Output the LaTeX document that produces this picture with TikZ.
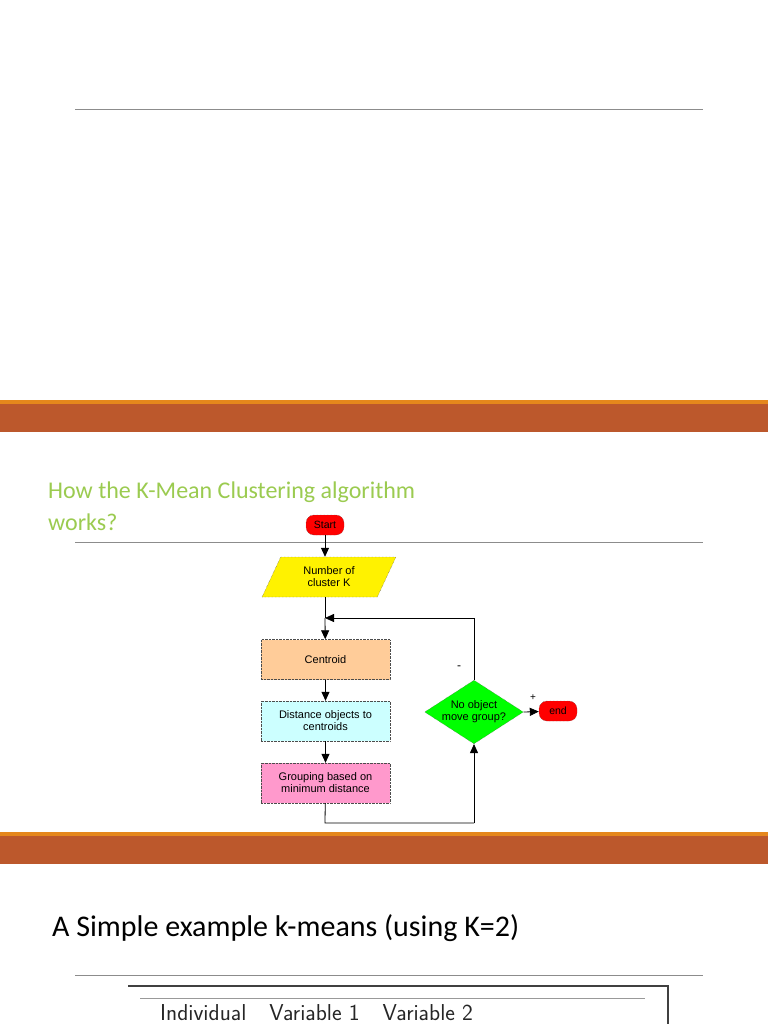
\documentclass[tikz,border=0pt]{standalone}
\usepackage{fontspec}
\setmainfont{Liberation Sans}
\newfontfamily\cali{Carlito}
\usetikzlibrary{shapes.geometric,arrows.meta}
\definecolor{bar}{HTML}{BC582C}
\definecolor{stripe}{HTML}{E5871C}
\definecolor{ttl}{HTML}{9BCB50}
\begin{document}
\begin{tikzpicture}[x=1pt,y=-1pt,
  box/.style={draw=black!70,densely dotted,minimum width=129pt,minimum height=40pt,inner sep=1pt,align=center,font=\fontsize{11}{12}\selectfont},
  term/.style={draw=black!70,densely dotted,fill=red,rounded corners=8pt,minimum width=38pt,minimum height=20pt,inner sep=1pt,font=\fontsize{10.5}{11}\selectfont},
  arr/.style={-{Triangle[length=9pt,width=8pt]},line width=0.8pt},
  ln/.style={line width=0.8pt},
  rule/.style={draw=black!45,line width=0.8pt}]
\useasboundingbox (0,0) rectangle (768,1024);
\fill[white] (0,0) rectangle (768,1024);
\draw[rule] (75,109) -- (703,109);
\fill[stripe] (0,400) rectangle (768,404);
\fill[bar] (0,404) rectangle (768,432);
\node[anchor=base west,text=ttl,font=\cali\fontsize{24}{26}\selectfont,inner sep=0] (t1) at (48,498) {How the K-Mean Clustering algorithm};
\node[anchor=base west,text=ttl,font=\cali\fontsize{24}{26}\selectfont,inner sep=0] (t2) at (48,530) {works?};
\draw[rule] (75,542) -- (703,542);
\node[term] (start) at (325,525) {Start};
\node[trapezium,trapezium left angle=65,trapezium right angle=115,draw=black!70,densely dotted,fill=yellow,minimum width=118pt,minimum height=40pt,inner sep=1pt,align=center,font=\fontsize{11}{12}\selectfont] (num) at (329,577) {Number of\\cluster K};
\node[box,fill={rgb,255:red,255;green,204;blue,153}] (cen) at (325.5,659.5) {Centroid};
\node[box,fill={rgb,255:red,204;green,255;blue,255}] (dist) at (325.5,721) {Distance objects to\\centroids};
\node[box,fill={rgb,255:red,255;green,153;blue,204}] (grp) at (325.5,783) {Grouping based on\\minimum distance};
\node[diamond,draw=black!70,densely dotted,fill=green,aspect=1.55,minimum width=92pt,minimum height=60pt,inner sep=0,align=center,font=\fontsize{11}{12}\selectfont] (dec) at (474,712) {No object\\move group?};
\node[term] (end) at (558,711) {end};
\coordinate (j) at (325,618);
\coordinate (tr) at (474,618);
\coordinate (bl) at (325,823);
\coordinate (br) at (474,823);
\draw[arr] (start) -- (num.north -| start);
\draw[ln] (num.south -| start) -- (j);
\draw[arr] (j) -- (cen);
\draw[arr] (cen) -- (dist);
\draw[arr] (dist) -- (grp);
\draw[ln] (grp) -- (bl) -- (br);
\draw[arr] (br) -- (dec.south);
\draw[ln] (dec.north) -- (tr);
\draw[arr] (tr) -- (j);
\draw[arr] (dec.east) -- (end);
\node[font=\fontsize{12}{12}\selectfont] (minus) at (459,668) {-};
\node[font=\fontsize{10}{10}\selectfont] (plus) at (533,698) {+};
\fill[stripe] (0,832) rectangle (768,836);
\fill[bar] (0,836) rectangle (768,864);
\node[anchor=base west,inner sep=0,font=\cali\fontsize{30}{32}\selectfont] (t3) at (52,936) {A Simple example k-means (using K=2)};
\draw[rule] (75,975) -- (703,975);
\draw[black!75,line width=1.3pt] (128,986) -- (668,986) -- (668,1026);
\draw[black!40,line width=1pt] (140,998) -- (645,998);
\node[anchor=base west,inner sep=0,font=\sffamily\fontsize{23}{24}\selectfont,text=black!85] (hd) at (160,1020) {Individual\quad Variable 1\quad Variable 2};
\end{tikzpicture}
\end{document}
